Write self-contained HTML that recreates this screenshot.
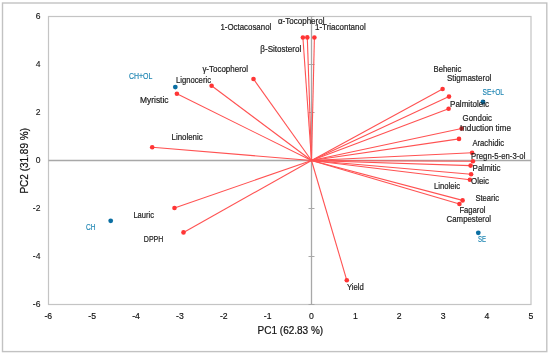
<!DOCTYPE html>
<html><head><meta charset="utf-8"><style>
html,body{margin:0;padding:0;background:#fff;}
svg{display:block;}
.lab{font-family:"Liberation Sans",Arial,sans-serif;font-size:8.2px;fill:#1e1e1e;stroke:#1e1e1e;stroke-width:0.2px;}
.blab{font-family:"Liberation Sans",Arial,sans-serif;font-size:8.2px;fill:#1c84b2;stroke:#1c84b2;stroke-width:0.15px;}
.tick{font-family:"Liberation Sans",Arial,sans-serif;font-size:8px;fill:#111;stroke:#111;stroke-width:0.1px;}
.yt{font-size:8.6px;}
.xt{stroke-width:0.15px;font-size:8.7px;}
.title{font-family:"Liberation Sans",Arial,sans-serif;font-size:10px;fill:#111;stroke:#111;stroke-width:0.2px;}
</style></head><body>
<svg width="550" height="355" viewBox="0 0 550 355">
<rect x="0" y="0" width="550" height="355" fill="#fff"/>
<rect x="2.5" y="3" width="544.3" height="348.6" fill="none" stroke="#c2c2c2" stroke-width="1.4"/>

<rect x="48.5" y="16.5" width="482.5" height="288.0" fill="none" stroke="#c4c4c4" stroke-width="1.2"/>
<line x1="48.5" y1="160.5" x2="531" y2="160.5" stroke="#a8a8a8" stroke-width="1.3"/>
<line x1="311.5" y1="16.5" x2="311.5" y2="304.5" stroke="#a8a8a8" stroke-width="1.3"/>
<line x1="308.5" y1="304.50" x2="314.5" y2="304.50" stroke="#a8a8a8" stroke-width="1"/>
<line x1="308.5" y1="256.50" x2="314.5" y2="256.50" stroke="#a8a8a8" stroke-width="1"/>
<line x1="308.5" y1="208.50" x2="314.5" y2="208.50" stroke="#a8a8a8" stroke-width="1"/>
<line x1="308.5" y1="160.50" x2="314.5" y2="160.50" stroke="#a8a8a8" stroke-width="1"/>
<line x1="308.5" y1="112.50" x2="314.5" y2="112.50" stroke="#a8a8a8" stroke-width="1"/>
<line x1="308.5" y1="64.50" x2="314.5" y2="64.50" stroke="#a8a8a8" stroke-width="1"/>
<line x1="308.5" y1="16.50" x2="314.5" y2="16.50" stroke="#a8a8a8" stroke-width="1"/>
<text class="tick yt" x="40.5" y="307.00" text-anchor="end">-6</text>
<text class="tick yt" x="40.5" y="259.00" text-anchor="end">-4</text>
<text class="tick yt" x="40.5" y="211.00" text-anchor="end">-2</text>
<text class="tick yt" x="40.5" y="163.00" text-anchor="end">0</text>
<text class="tick yt" x="40.5" y="115.00" text-anchor="end">2</text>
<text class="tick yt" x="40.5" y="67.00" text-anchor="end">4</text>
<text class="tick yt" x="40.5" y="19.00" text-anchor="end">6</text>
<text class="tick xt" x="48.32" y="318.8" text-anchor="middle">-6</text>
<text class="tick xt" x="92.18" y="318.8" text-anchor="middle">-5</text>
<text class="tick xt" x="136.05" y="318.8" text-anchor="middle">-4</text>
<text class="tick xt" x="179.91" y="318.8" text-anchor="middle">-3</text>
<text class="tick xt" x="223.77" y="318.8" text-anchor="middle">-2</text>
<text class="tick xt" x="267.64" y="318.8" text-anchor="middle">-1</text>
<text class="tick xt" x="311.50" y="318.8" text-anchor="middle">0</text>
<text class="tick xt" x="355.36" y="318.8" text-anchor="middle">1</text>
<text class="tick xt" x="399.23" y="318.8" text-anchor="middle">2</text>
<text class="tick xt" x="443.09" y="318.8" text-anchor="middle">3</text>
<text class="tick xt" x="486.95" y="318.8" text-anchor="middle">4</text>
<text class="tick xt" x="530.82" y="318.8" text-anchor="middle">5</text>
<text class="title" x="257.6" y="334.4">PC1 (62.83 %)</text>
<text class="title" transform="translate(28.3,160.8) rotate(-90)" text-anchor="middle">PC2 (31.89 %)</text>
<line x1="311.5" y1="160.5" x2="302.9" y2="37.5" stroke="#ff5252" stroke-width="1.1"/>
<line x1="311.5" y1="160.5" x2="307.3" y2="37.4" stroke="#ff5252" stroke-width="1.1"/>
<line x1="311.5" y1="160.5" x2="314.4" y2="37.5" stroke="#ff5252" stroke-width="1.1"/>
<line x1="311.5" y1="160.5" x2="253.5" y2="79.0" stroke="#ff5252" stroke-width="1.1"/>
<line x1="311.5" y1="160.5" x2="211.6" y2="85.7" stroke="#ff5252" stroke-width="1.1"/>
<line x1="311.5" y1="160.5" x2="176.9" y2="93.8" stroke="#ff5252" stroke-width="1.1"/>
<line x1="311.5" y1="160.5" x2="152.2" y2="147.3" stroke="#ff5252" stroke-width="1.1"/>
<line x1="311.5" y1="160.5" x2="174.5" y2="208.0" stroke="#ff5252" stroke-width="1.1"/>
<line x1="311.5" y1="160.5" x2="183.5" y2="232.4" stroke="#ff5252" stroke-width="1.1"/>
<line x1="311.5" y1="160.5" x2="346.8" y2="280.3" stroke="#ff5252" stroke-width="1.1"/>
<line x1="311.5" y1="160.5" x2="442.6" y2="89.0" stroke="#ff5252" stroke-width="1.1"/>
<line x1="311.5" y1="160.5" x2="449.0" y2="96.6" stroke="#ff5252" stroke-width="1.1"/>
<line x1="311.5" y1="160.5" x2="448.6" y2="108.8" stroke="#ff5252" stroke-width="1.1"/>
<line x1="311.5" y1="160.5" x2="461.6" y2="128.5" stroke="#ff5252" stroke-width="1.1"/>
<line x1="311.5" y1="160.5" x2="459.0" y2="138.9" stroke="#ff5252" stroke-width="1.1"/>
<line x1="311.5" y1="160.5" x2="472.1" y2="152.8" stroke="#ff5252" stroke-width="1.1"/>
<line x1="311.5" y1="160.5" x2="472.9" y2="161.3" stroke="#ff5252" stroke-width="1.1"/>
<line x1="311.5" y1="160.5" x2="470.6" y2="165.6" stroke="#ff5252" stroke-width="1.1"/>
<line x1="311.5" y1="160.5" x2="471.1" y2="174.3" stroke="#ff5252" stroke-width="1.1"/>
<line x1="311.5" y1="160.5" x2="469.9" y2="179.7" stroke="#ff5252" stroke-width="1.1"/>
<line x1="311.5" y1="160.5" x2="462.6" y2="200.4" stroke="#ff5252" stroke-width="1.1"/>
<line x1="311.5" y1="160.5" x2="459.4" y2="204.0" stroke="#ff5252" stroke-width="1.1"/>
<circle cx="302.9" cy="37.5" r="2.3" fill="#ff3535"/>
<circle cx="307.3" cy="37.4" r="2.3" fill="#ff3535"/>
<circle cx="314.4" cy="37.5" r="2.3" fill="#ff3535"/>
<circle cx="253.5" cy="79.0" r="2.3" fill="#ff3535"/>
<circle cx="211.6" cy="85.7" r="2.3" fill="#ff3535"/>
<circle cx="176.9" cy="93.8" r="2.3" fill="#ff3535"/>
<circle cx="152.2" cy="147.3" r="2.3" fill="#ff3535"/>
<circle cx="174.5" cy="208.0" r="2.3" fill="#ff3535"/>
<circle cx="183.5" cy="232.4" r="2.3" fill="#ff3535"/>
<circle cx="346.8" cy="280.3" r="2.3" fill="#ff3535"/>
<circle cx="442.6" cy="89.0" r="2.3" fill="#ff3535"/>
<circle cx="449.0" cy="96.6" r="2.3" fill="#ff3535"/>
<circle cx="448.6" cy="108.8" r="2.3" fill="#ff3535"/>
<circle cx="461.6" cy="128.5" r="2.3" fill="#ff3535"/>
<circle cx="459.0" cy="138.9" r="2.3" fill="#ff3535"/>
<circle cx="472.1" cy="152.8" r="2.3" fill="#ff3535"/>
<circle cx="472.9" cy="161.3" r="2.3" fill="#ff3535"/>
<circle cx="470.6" cy="165.6" r="2.3" fill="#ff3535"/>
<circle cx="471.1" cy="174.3" r="2.3" fill="#ff3535"/>
<circle cx="469.9" cy="179.7" r="2.3" fill="#ff3535"/>
<circle cx="462.6" cy="200.4" r="2.3" fill="#ff3535"/>
<circle cx="459.4" cy="204.0" r="2.3" fill="#ff3535"/>
<circle cx="175.3" cy="87.1" r="2.4" fill="#0a6ea2"/>
<circle cx="483.0" cy="102.0" r="2.4" fill="#0a6ea2"/>
<circle cx="110.7" cy="220.8" r="2.4" fill="#0a6ea2"/>
<circle cx="478.3" cy="232.8" r="2.4" fill="#0a6ea2"/>
<text class="lab" x="220.4" y="30.0" textLength="50.9" lengthAdjust="spacingAndGlyphs">1-Octacosanol</text>
<text class="lab" x="277.9" y="23.6" textLength="46.6" lengthAdjust="spacingAndGlyphs">α-Tocopherol</text>
<text class="lab" x="315.0" y="29.6" textLength="50.7" lengthAdjust="spacingAndGlyphs">1-Triacontanol</text>
<text class="lab" x="260.3" y="51.5" textLength="41.0" lengthAdjust="spacingAndGlyphs">β-Sitosterol</text>
<text class="lab" x="202.4" y="71.5" textLength="45.6" lengthAdjust="spacingAndGlyphs">γ-Tocopherol</text>
<text class="lab" x="176.0" y="83.2" textLength="35.0" lengthAdjust="spacingAndGlyphs">Lignoceric</text>
<text class="lab" x="140.0" y="102.5" textLength="28.5" lengthAdjust="spacingAndGlyphs">Myristic</text>
<text class="lab" x="171.5" y="140.0" textLength="31.2" lengthAdjust="spacingAndGlyphs">Linolenic</text>
<text class="lab" x="133.4" y="217.5" textLength="20.6" lengthAdjust="spacingAndGlyphs">Lauric</text>
<text class="lab" x="143.8" y="242.0" textLength="19.6" lengthAdjust="spacingAndGlyphs">DPPH</text>
<text class="lab" x="347.0" y="289.5" textLength="16.8" lengthAdjust="spacingAndGlyphs">Yield</text>
<text class="lab" x="433.6" y="72.0" textLength="27.8" lengthAdjust="spacingAndGlyphs">Behenic</text>
<text class="lab" x="447.0" y="81.3" textLength="44.4" lengthAdjust="spacingAndGlyphs">Stigmasterol</text>
<text class="lab" x="450.0" y="106.5" textLength="39.0" lengthAdjust="spacingAndGlyphs">Palmitoleic</text>
<text class="lab" x="462.6" y="121.3" textLength="29.4" lengthAdjust="spacingAndGlyphs">Gondoic</text>
<text class="lab" x="460.0" y="131.3" textLength="51.0" lengthAdjust="spacingAndGlyphs">Induction time</text>
<text class="lab" x="472.4" y="145.5" textLength="31.6" lengthAdjust="spacingAndGlyphs">Arachidic</text>
<text class="lab" x="471.0" y="158.5" textLength="54.4" lengthAdjust="spacingAndGlyphs">Pregn-5-en-3-ol</text>
<text class="lab" x="472.6" y="170.5" textLength="28.0" lengthAdjust="spacingAndGlyphs">Palmitic</text>
<text class="lab" x="471.0" y="184.0" textLength="18.0" lengthAdjust="spacingAndGlyphs">Oleic</text>
<text class="lab" x="434.0" y="189.0" textLength="26.0" lengthAdjust="spacingAndGlyphs">Linoleic</text>
<text class="lab" x="475.4" y="201.3" textLength="23.6" lengthAdjust="spacingAndGlyphs">Stearic</text>
<text class="lab" x="459.4" y="213.3" textLength="26.0" lengthAdjust="spacingAndGlyphs">Fagarol</text>
<text class="lab" x="446.6" y="222.0" textLength="44.4" lengthAdjust="spacingAndGlyphs">Campesterol</text>
<text class="blab" x="129.0" y="79.3" textLength="23.4" lengthAdjust="spacingAndGlyphs">CH+OL</text>
<text class="blab" x="482.6" y="95.0" textLength="21.4" lengthAdjust="spacingAndGlyphs">SE+OL</text>
<text class="blab" x="86.0" y="230.0" textLength="9.5" lengthAdjust="spacingAndGlyphs">CH</text>
<text class="blab" x="477.9" y="241.9" textLength="8.1" lengthAdjust="spacingAndGlyphs">SE</text>
</svg></body></html>
